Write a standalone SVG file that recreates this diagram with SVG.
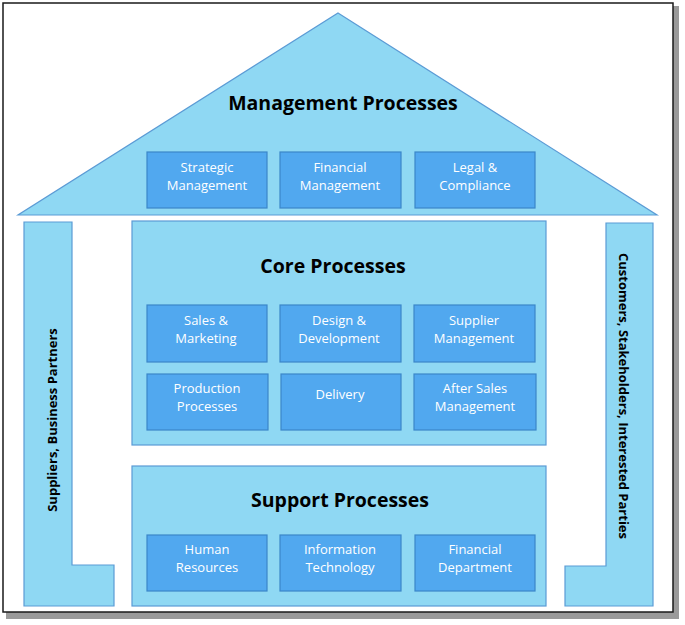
<svg xmlns="http://www.w3.org/2000/svg" width="685" height="625" viewBox="0 0 685 625">
<style>
.area{fill:#8fd8f3;stroke:#5b9bd5;stroke-width:1.2}
.box{fill:#51a8ef;stroke:#3b86c9;stroke-width:1.2}
.bt{font-family:"Open Sans",sans-serif;font-size:13px;fill:#ffffff;text-anchor:middle}
.tt{font-family:"Open Sans",sans-serif;font-size:19.5px;font-weight:bold;fill:#000;text-anchor:middle}
.pt{font-family:"Open Sans",sans-serif;font-size:13px;font-weight:bold;fill:#000;text-anchor:middle}
</style>
<rect x="0" y="0" width="685" height="625" fill="#ffffff"/>
<rect x="6" y="6" width="673" height="613" fill="#9a9a9a"/>
<rect x="3" y="3" width="670" height="609" fill="#ffffff" stroke="#1a1a1a" stroke-width="1.5"/>
<g id="management">
<polygon class="area" points="338,13 657,215 18,215"/>
<text class="tt" x="343" y="110">Management Processes</text>
</g>
<g id="strategic"><rect class="box" x="147" y="152" width="120" height="56"/><text class="bt" x="207" y="172">Strategic</text><text class="bt" x="207" y="190">Management</text></g>
<g id="financial"><rect class="box" x="280" y="152" width="121" height="56"/><text class="bt" x="340" y="172">Financial</text><text class="bt" x="340" y="190">Management</text></g>
<g id="legal"><rect class="box" x="415" y="152" width="120" height="56"/><text class="bt" x="475" y="172">Legal &amp;</text><text class="bt" x="475" y="190">Compliance</text></g>
<g id="core">
<rect class="area" x="132" y="221" width="414" height="224"/>
<text class="tt" x="333" y="273">Core Processes</text>
</g>
<g id="sales"><rect class="box" x="147" y="305" width="120" height="57"/><text class="bt" x="206" y="325">Sales &amp;</text><text class="bt" x="206" y="343">Marketing</text></g>
<g id="design"><rect class="box" x="280" y="305" width="121" height="57"/><text class="bt" x="339" y="325">Design &amp;</text><text class="bt" x="339" y="343">Development</text></g>
<g id="supplier"><rect class="box" x="414" y="305" width="121" height="57"/><text class="bt" x="474" y="325">Supplier</text><text class="bt" x="474" y="343">Management</text></g>
<g id="production"><rect class="box" x="147" y="374" width="121" height="56"/><text class="bt" x="207" y="393">Production</text><text class="bt" x="207" y="411">Processes</text></g>
<g id="delivery"><rect class="box" x="281" y="374" width="120" height="56"/><text class="bt" x="340" y="399">Delivery</text></g>
<g id="aftersales"><rect class="box" x="414" y="374" width="122" height="56"/><text class="bt" x="475" y="393">After Sales</text><text class="bt" x="475" y="411">Management</text></g>
<g id="support">
<rect class="area" x="132" y="466" width="414" height="140"/>
<text class="tt" x="340" y="507">Support Processes</text>
</g>
<g id="hr"><rect class="box" x="147" y="535" width="120" height="56"/><text class="bt" x="207" y="554">Human</text><text class="bt" x="207" y="572">Resources</text></g>
<g id="it"><rect class="box" x="280" y="535" width="121" height="56"/><text class="bt" x="340" y="554">Information</text><text class="bt" x="340" y="572">Technology</text></g>
<g id="findept"><rect class="box" x="415" y="535" width="120" height="56"/><text class="bt" x="475" y="554">Financial</text><text class="bt" x="475" y="572">Department</text></g>
<g id="suppliers">
<polygon class="area" points="24,222 72,222 72,565 114,565 114,606 24,606"/>
<text class="pt" transform="translate(57,420) rotate(-90)">Suppliers, Business Partners</text>
</g>
<g id="customers">
<polygon class="area" points="606,223 653,223 653,606 565,606 565,566 606,566"/>
<text class="pt" transform="translate(619,396) rotate(90)">Customers, Stakeholders, Interested Parties</text>
</g>
<g id="connectors"></g>
</svg>
